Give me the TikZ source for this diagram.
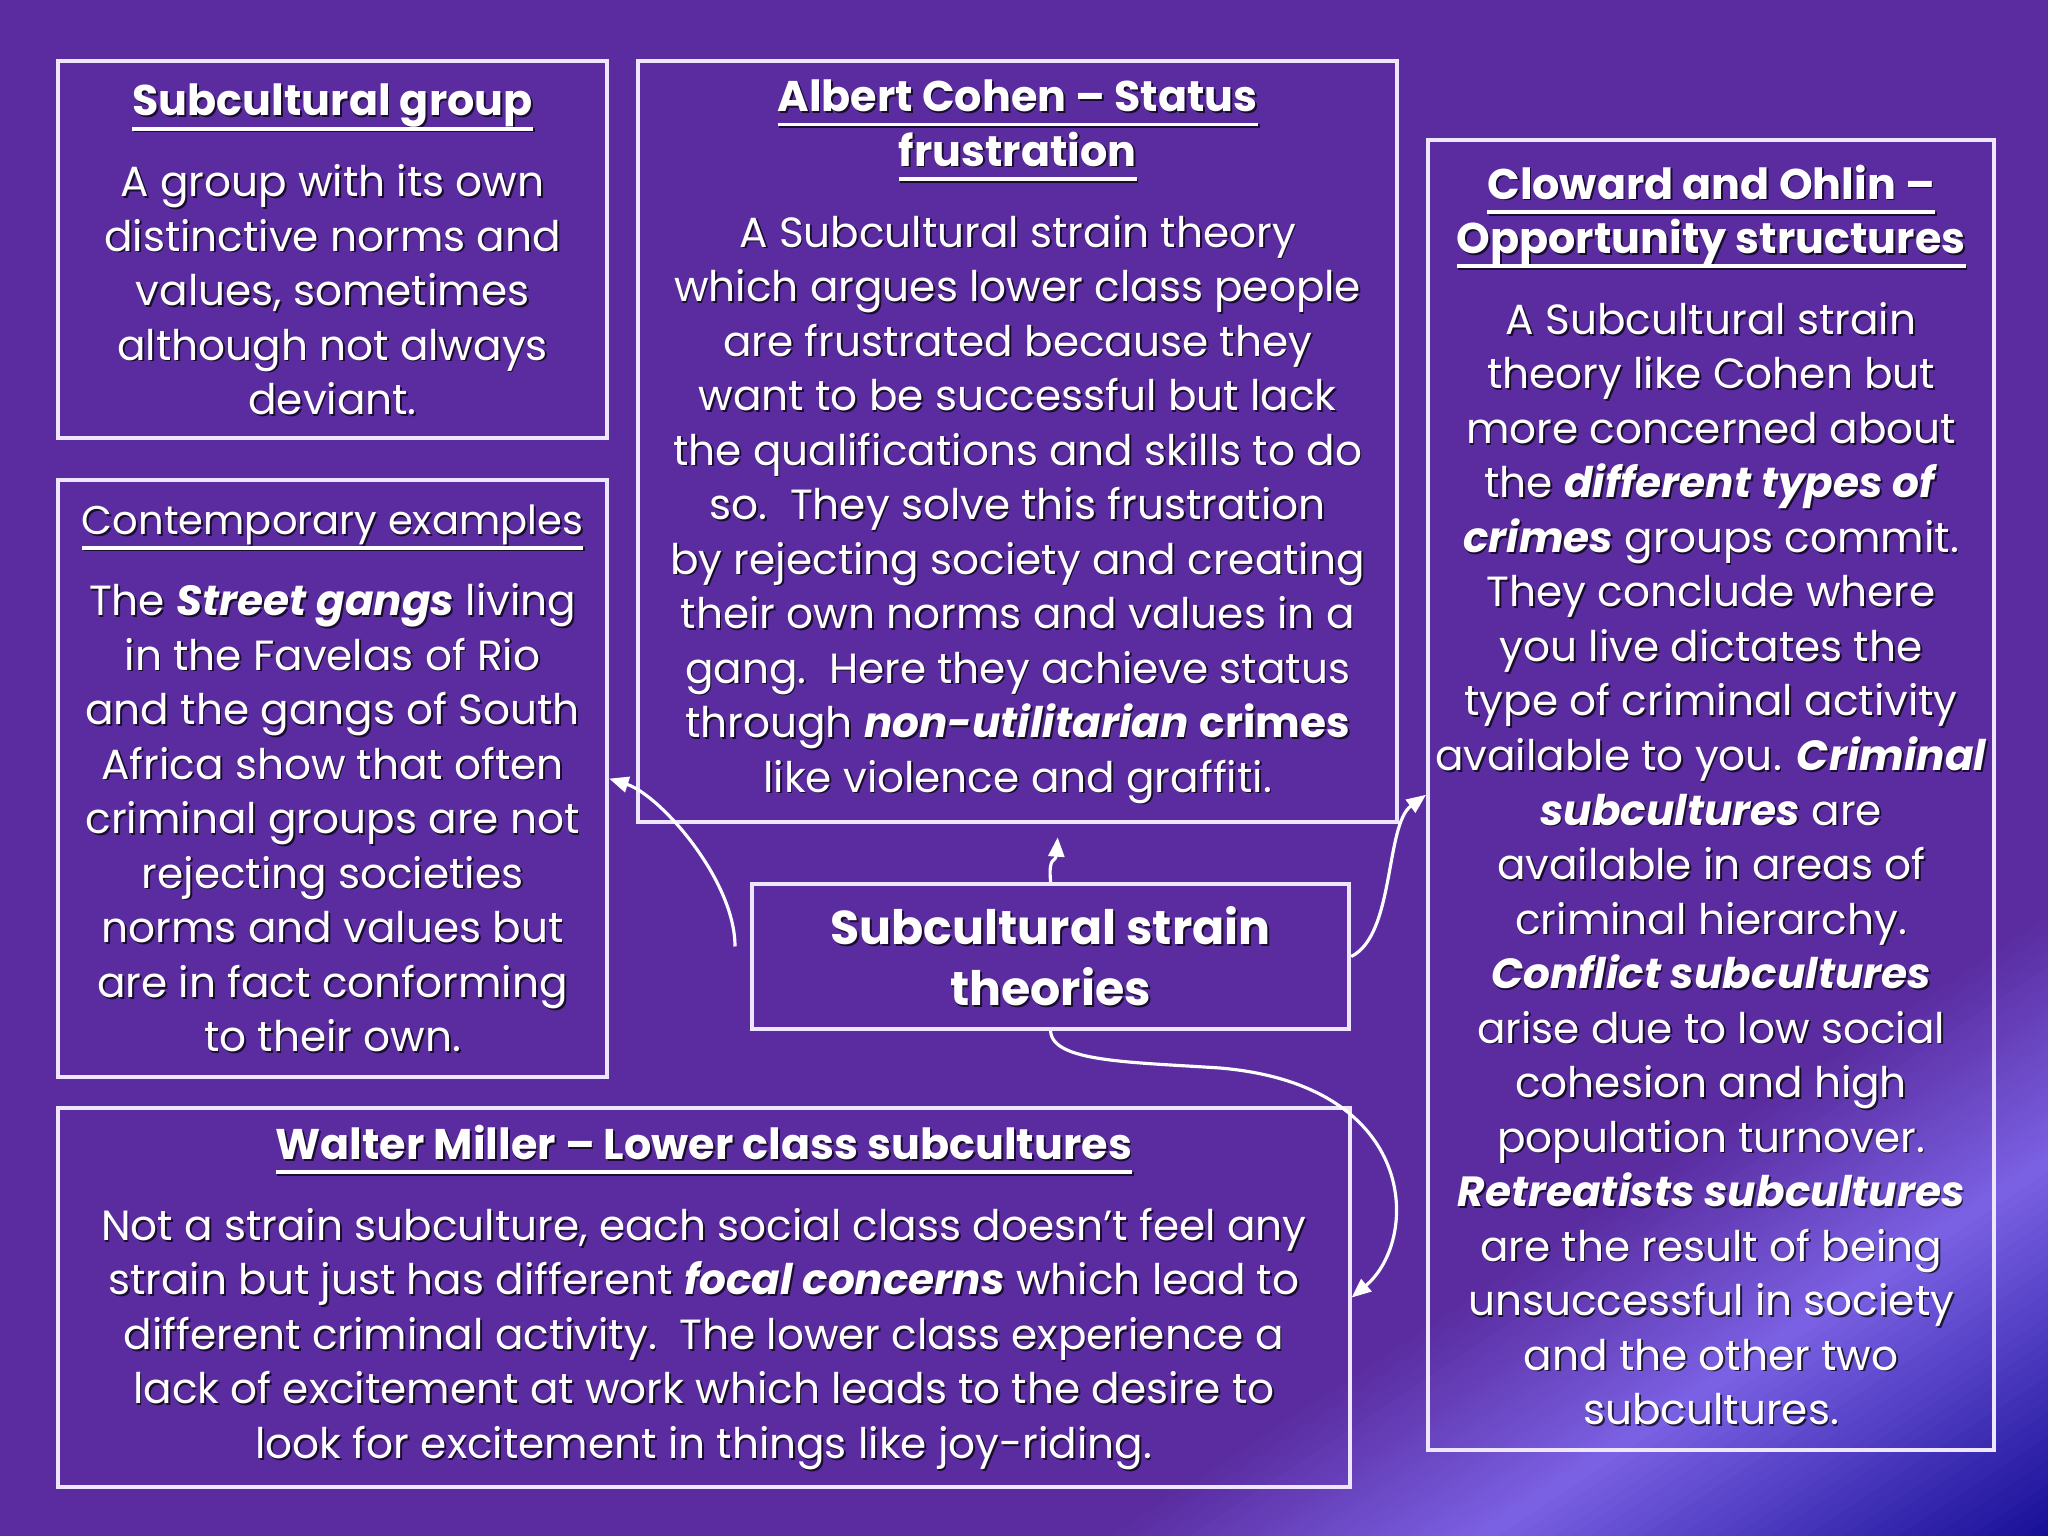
\documentclass[tikz,border=0pt]{standalone}
\usepackage{fontspec}
\setmainfont{Poppins}
\usetikzlibrary{positioning,calc,arrows.meta}

\definecolor{bgpurple}{RGB}{90,44,160}
\definecolor{bglight}{RGB}{122,96,226}
\definecolor{bgblue}{RGB}{22,14,150}
\definecolor{boxline}{RGB}{238,230,252}

\newcommand{\bi}[1]{\textbf{\textit{#1}}}
\newcommand{\thickul}[1]{\setbox0\hbox{#1}\leavevmode
  \rlap{\raisebox{-4.2pt}{\rule{\wd0}{1.1pt}}}\box0}
\newcommand{\heading}[1]{\thickul{\fontsize{12.2}{15.5}\selectfont\textbf{#1}}}
\newcommand{\bodysize}{\fontsize{12}{15.5}\selectfont}

\newcommand{\groupText}{\heading{Subcultural group}\\[7.5pt]
A group with its own\\ distinctive norms and\\ values, sometimes\\
although not always\\ deviant.}
\newcommand{\cohenText}{\heading{Albert Cohen – Status}\\ \heading{frustration}\\[7.5pt]
A Subcultural strain theory\\ which argues lower class people\\
are frustrated because they\\ want to be successful but lack\\
the qualifications and skills to do\\ so.\ \ They solve this frustration\\
by rejecting society and creating\\ their own norms and values in a\\
gang.\ \ Here they achieve status\\ through \bi{non-utilitarian} \textbf{crimes}\\
like violence and graffiti.}
\newcommand{\clowardText}{\heading{Cloward and Ohlin –}\\ \heading{Opportunity structures}\\[7.5pt]
A Subcultural strain\\ theory like Cohen but\\ more concerned about\\
the \bi{different types of}\\ \bi{crimes} groups commit.\\ They conclude where\\
you live dictates the\\ type of criminal activity\\ available to you. \bi{Criminal}\\
\bi{subcultures} are\\ available in areas of\\ criminal hierarchy.\\
\bi{Conflict subcultures}\\ arise due to low social\\ cohesion and high\\
population turnover.\\ \bi{Retreatists subcultures}\\ are the result of being\\
unsuccessful in society\\ and the other two\\ subcultures.}
\newcommand{\examplesText}{\thickul{\fontsize{11.4}{15.5}\selectfont Contemporary examples}\\[7.5pt]
The \bi{Street gangs} living\\ in the Favelas of Rio\\ and the gangs of South\\
Africa show that often\\ criminal groups are not\\ rejecting societies\\
norms and values but\\ are in fact conforming\\ to their own.}
\newcommand{\strainText}{Subcultural strain\\ theories}
\newcommand{\millerText}{\heading{Walter Miller – Lower class subcultures}\\[7.5pt]
Not a strain subculture, each social class doesn’t feel any\\
strain but just has different \bi{focal concerns} which lead to\\
different criminal activity.\ \ The lower class experience a\\
lack of excitement at work which leads to the desire to\\
look for excitement in things like joy-riding.}

\begin{document}
\begin{tikzpicture}[x=0.01cm,y=-0.01cm,
box/.style={draw=boxline,line width=1.1pt,text=white,align=center,
    anchor=north west,inner sep=0pt,font=\bodysize},
txtshadow/.style={text=black,text opacity=0.7,align=center,
    anchor=north west,inner sep=0pt,font=\bodysize},
link/.style={draw=white,line width=0.9pt,-{Triangle[length=5.5pt,width=4.5pt]}}]

\useasboundingbox (0,0) rectangle (2048,1536);

% background
\begin{scope}
\clip (0,0) rectangle (2048,1536);
\fill[bgpurple] (0,0) rectangle (2048,1536);
\begin{scope}[rotate=-56.5]
\foreach \i in {0,...,29}{
  \pgfmathsetmacro{\a}{1888+7*\i}
  \pgfmathtruncatemacro{\c}{100*\i/29}
  \fill[bglight!\c!bgpurple] (\a,-3000) rectangle (\a+8,3000);
}
\foreach \i in {0,...,31}{
  \pgfmathsetmacro{\a}{2098+10*\i}
  \pgfmathtruncatemacro{\c}{100*\i/31}
  \fill[bgblue!\c!bglight] (\a,-3000) rectangle (\a+11,3000);
}
\end{scope}
\end{scope}

% text shadows
\node[txtshadow,minimum width=5.49cm,minimum height=3.77cm] (group-sh) at (59,62) {\groupText};
\node[txtshadow,minimum width=7.59cm,minimum height=7.61cm] (cohen-sh) at (639,62) {\cohenText};
\node[txtshadow,minimum width=5.66cm,minimum height=13.09cm] (cloward-sh) at (1429,141) {\clowardText};
\node[txtshadow,minimum width=5.49cm,minimum height=5.97cm] (examples-sh) at (59,481) {\examplesText};
\node[txtshadow,minimum width=5.97cm,minimum height=1.45cm,
    font=\fontsize{13.5}{17.4}\selectfont\bfseries] (strain-sh) at (753,885) {\strainText};
\node[txtshadow,minimum width=12.91cm,minimum height=3.79cm] (miller-sh) at (59,1109) {\millerText};

% boxes
\node[box,minimum width=5.49cm,minimum height=3.77cm] (group) at (56,59) {\groupText};
\node[box,minimum width=7.59cm,minimum height=7.61cm] (cohen) at (636,59) {\cohenText};
\node[box,minimum width=5.66cm,minimum height=13.09cm] (cloward) at (1426,138) {\clowardText};
\node[box,minimum width=5.49cm,minimum height=5.97cm] (examples) at (56,478) {\examplesText};
\node[box,minimum width=5.97cm,minimum height=1.45cm,
    font=\fontsize{13.5}{17.4}\selectfont\bfseries] (strain) at (750,882) {\strainText};
\node[box,minimum width=12.91cm,minimum height=3.79cm] (miller) at (56,1106) {\millerText};

% connectors
\coordinate (uptip) at ($(cohen.south)+(40,13)$);
\coordinate (leftstart) at ($(strain.west)+(-15,-10)$);
\draw[link] (strain.north) .. controls (1048,855) and (1056,862) .. (uptip);
\draw[link] (leftstart) .. controls (735,880) and (660,795) .. (examples.east);
\draw[link] (strain.east) .. controls (1395,935) and (1385,825) .. (cloward.west);
\draw[link] (strain.south) .. controls (1052,1062) and (1130,1062) .. (1220,1068)
    .. controls (1420,1085) and (1420,1240) .. (miller.east);
\end{tikzpicture}
\end{document}
